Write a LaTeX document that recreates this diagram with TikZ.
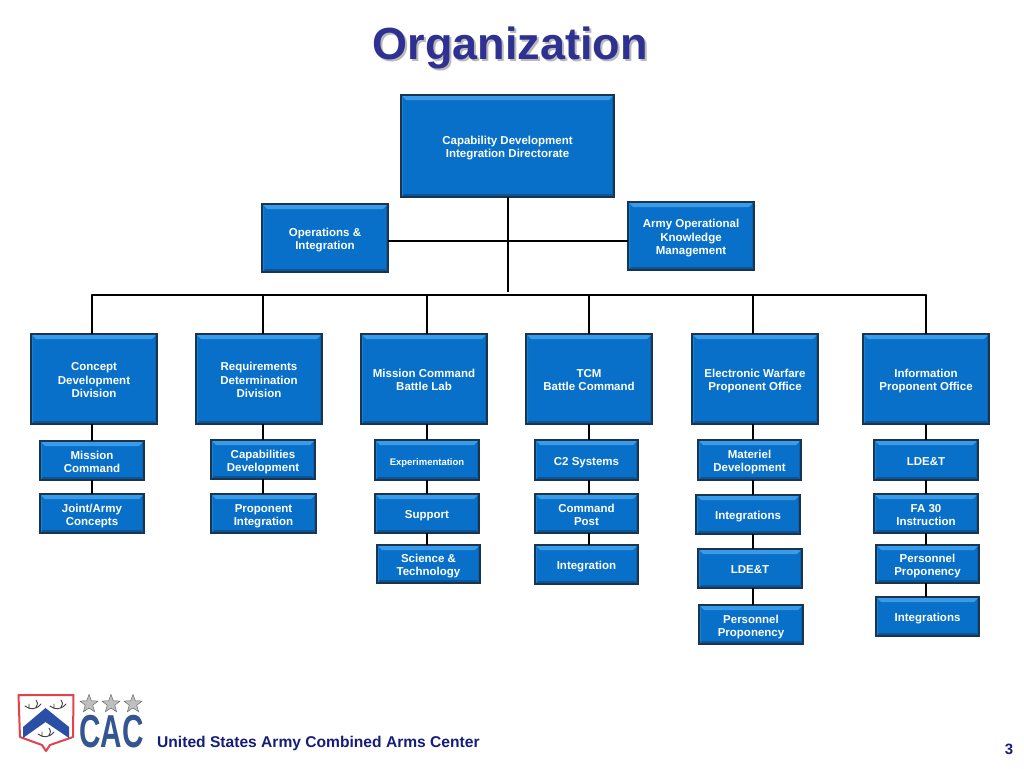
\documentclass[tikz,border=0pt]{standalone}
\usepackage{fontspec}
\setmainfont{Liberation Sans}
\usetikzlibrary{shapes.geometric,calc}
\definecolor{boxfill}{HTML}{0870C8}
\definecolor{boxedge}{HTML}{1A3550}
\definecolor{bevtop}{HTML}{3A9BE8}
\definecolor{bevbot}{HTML}{0B5596}
\definecolor{bevleft}{HTML}{1880D4}
\definecolor{bevright}{HTML}{0A62AE}
\definecolor{navy}{HTML}{2E3192}
\definecolor{footnavy}{HTML}{141E78}
\definecolor{cacblue}{HTML}{34558F}
\definecolor{chevblue}{HTML}{2A4FA5}
\definecolor{shieldred}{HTML}{E0444A}
\tikzset{
  orgbox/.style={rectangle,inner sep=0pt,outer sep=0pt,draw=boxedge,line width=1.3pt,fill=boxfill,
    text=white,
    font=\bfseries\fontsize{11.5}{13.4}\selectfont,
    path picture={
      \coordinate (sw) at (path picture bounding box.south west);
      \coordinate (ne) at (path picture bounding box.north east);
      \fill[bevtop] (sw|-ne) -- (ne) -- ++(-5,5) -- ($(sw|-ne)+(5,5)$) -- cycle;
      \fill[bevbot] (sw) -- (sw-|ne) -- ++(-3,-3) -- ($(sw)+(3,-3)$) -- cycle;
      \fill[bevleft] (sw) -- (sw|-ne) -- ++(2,2) -- ($(sw)+(2,-2)$) -- cycle;
      \fill[bevright] (sw-|ne) -- (ne) -- ++(-2,2) -- ($(sw-|ne)+(-2,-2)$) -- cycle;
    }},
  link/.style={line width=2.2pt,black},
  starmark/.style={star,star points=5,star point ratio=2.4,minimum size=19pt,inner sep=0pt,fill=gray!50,draw=gray!85!black,line width=.5pt},
}
% name, x0, y0, x1, y1, text
\newcommand{\orgnode}[6]{\node[orgbox,minimum width=#4pt-#2pt,minimum height=#5pt-#3pt] (#1) at ({(#2+#4)/2},{(#3+#5)/2}) {\raisebox{-2.6pt}[\height][\depth]{\begin{tabular}{@{}c@{}}#6\end{tabular}}};}
\begin{document}
\begin{tikzpicture}[x=1pt,y=-1pt]
\useasboundingbox (0,0) rectangle (1024,768);
\fill[white] (0,0) rectangle (1024,768);
% title
\node[text=gray!55,font=\bfseries\fontsize{45}{50}\selectfont] (titleshadow) at (512,49.5) {Organization};
\node[text=navy,font=\bfseries\fontsize{45}{50}\selectfont] (title) at (510,47.5) {Organization};
% junction points
\coordinate (bus1) at (92,295);
\coordinate (bus2) at (263,295);
\coordinate (bus3) at (427,295);
\coordinate (bus4) at (589,295);
\coordinate (bus5) at (753,295);
\coordinate (bus6) at (926,295);
\coordinate (trunkend) at (508,292);
\coordinate (stafflevel) at (508,241);
\orgnode{top}{401}{95}{614}{197}{Capability Development\\Integration Directorate}
\orgnode{ops}{262}{204}{388}{272}{Operations \&\\Integration}
\orgnode{aokm}{628}{202}{754}{270}{Army Operational\\Knowledge\\Management}
\orgnode{a0}{31}{334}{157}{424}{Concept\\Development\\Division}
\orgnode{b0}{196}{334}{322}{424}{Requirements\\Determination\\Division}
\orgnode{c0}{361}{334}{487}{424}{Mission Command\\Battle Lab}
\orgnode{d0}{526}{334}{652}{424}{TCM\\Battle Command}
\orgnode{e0}{692}{334}{818}{424}{Electronic Warfare\\Proponent Office}
\orgnode{f0}{863}{334}{989}{424}{Information\\Proponent Office}
\orgnode{a1}{40}{441}{144}{480}{Mission\\Command}
\orgnode{a2}{40}{494}{144}{533}{Joint/Army\\Concepts}
\orgnode{b1}{211}{440}{315}{479}{Capabilities\\Development}
\orgnode{b2}{211}{494}{316}{533}{Proponent\\Integration}
\orgnode{c1}{375}{440}{479}{480}{\fontsize{9.5}{11}\selectfont Experimentation}
\orgnode{c2}{375}{494}{479}{533}{Support}
\orgnode{c3}{377}{545}{480}{583}{Science \&\\Technology}
\orgnode{d1}{535}{440}{638}{480}{C2 Systems}
\orgnode{d2}{535}{494}{638}{533}{Command\\Post}
\orgnode{d3}{535}{545}{638}{584}{Integration}
\orgnode{e1}{698}{440}{801}{480}{Materiel\\Development}
\orgnode{e2}{696}{495}{800}{534}{Integrations}
\orgnode{e3}{698}{549}{802}{588}{LDE\&T}
\orgnode{e4}{699}{605}{803}{644}{Personnel\\Proponency}
\orgnode{f1}{874}{440}{978}{480}{LDE\&T}
\orgnode{f2}{874}{494}{978}{533}{FA 30\\Instruction}
\orgnode{f3}{876}{545}{979}{583}{Personnel\\Proponency}
\orgnode{f4}{876}{597}{979}{636}{Integrations}
% connectors
\draw[link] (stafflevel|-top.south) -- (trunkend);
\draw[link] (ops.east|-stafflevel) -- (stafflevel);
\draw[link] (stafflevel) -- (aokm.west|-stafflevel);
\draw[link,line cap=round] (bus1) -- (bus6);
\draw[link] (bus1) -- (bus1|-a0.north);
\draw[link] (bus2) -- (bus2|-b0.north);
\draw[link] (bus3) -- (bus3|-c0.north);
\draw[link] (bus4) -- (bus4|-d0.north);
\draw[link] (bus5) -- (bus5|-e0.north);
\draw[link] (bus6) -- (bus6|-f0.north);
\draw[link] (bus1|-a0.south) -- (bus1|-a1.north);
\draw[link] (bus1|-a1.south) -- (bus1|-a2.north);
\draw[link] (bus2|-b0.south) -- (bus2|-b1.north);
\draw[link] (bus2|-b1.south) -- (bus2|-b2.north);
\draw[link] (bus3|-c0.south) -- (bus3|-c1.north);
\draw[link] (bus3|-c1.south) -- (bus3|-c2.north);
\draw[link] (bus3|-c2.south) -- (bus3|-c3.north);
\draw[link] (bus4|-d0.south) -- (bus4|-d1.north);
\draw[link] (bus4|-d1.south) -- (bus4|-d2.north);
\draw[link] (bus4|-d2.south) -- (bus4|-d3.north);
\draw[link] (bus5|-e0.south) -- (bus5|-e1.north);
\draw[link] (bus5|-e1.south) -- (bus5|-e2.north);
\draw[link] (bus5|-e2.south) -- (bus5|-e3.north);
\draw[link] (bus5|-e3.south) -- (bus5|-e4.north);
\draw[link] (bus6|-f0.south) -- (bus6|-f1.north);
\draw[link] (bus6|-f1.south) -- (bus6|-f2.north);
\draw[link] (bus6|-f2.south) -- (bus6|-f3.north);
\draw[link] (bus6|-f3.south) -- (bus6|-f4.north);
% logo: shield
\draw[shieldred,line width=2pt,fill=white,line join=round] (18.5,695) -- (73.5,695) -- (73,737) -- (50,745) -- (46,751) -- (42,745) -- (20,737) -- cycle;
\fill[chevblue] (23,727) -- (45.5,708) -- (69,727) -- (69,738) -- (45.5,722) -- (23,738) -- cycle;
\foreach \px/\py in {33/705,58/705,46/733}{
  \draw[black!75,line width=.9pt,line cap=round] (\px-8,\py+1) .. controls (\px-3,\py+5) and (\px+3,\py+5) .. (\px+8,\py-1) (\px-4,\py-1) -- (\px-4,\py+3) (\px+3,\py-5) .. controls (\px+5,\py-3) and (\px+5,\py-1) .. (\px+3,\py+2);
}
\node[starmark] (st1) at (89,704) {};
\node[starmark] (st2) at (111,704) {};
\node[starmark] (st3) at (133,704) {};
\node[text=cacblue,font=\bfseries\fontsize{33}{36}\selectfont,xscale=.9,yscale=1.4,inner sep=0pt] (cac) at (111.5,732) {CAC};
% footer
\node[text=footnavy,font=\bfseries\fontsize{15.6}{18}\selectfont,anchor=west,inner sep=0pt] (footer) at (157,743.5) {United States Army Combined Arms Center};
\node[text=footnavy,font=\bfseries\fontsize{15}{17}\selectfont,inner sep=0pt] (pageno) at (1009,749) {3};
\end{tikzpicture}
\end{document}
